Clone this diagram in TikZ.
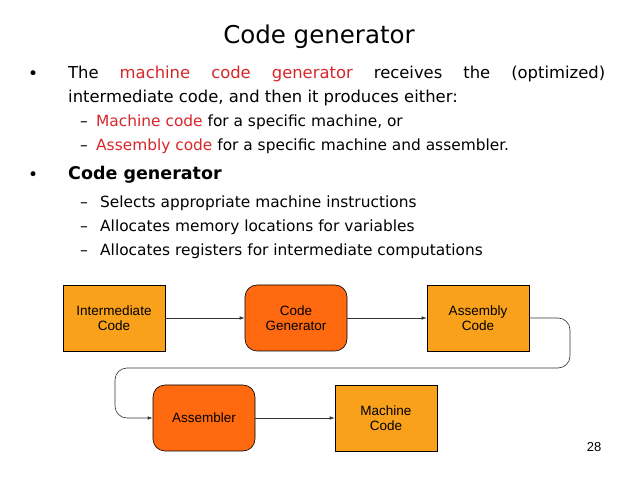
\documentclass[tikz,border=0pt]{standalone}
\usepackage{fontspec}
\setmainfont{DejaVu Sans}
\newfontfamily\arialf{Liberation Sans}
\usetikzlibrary{arrows.meta}
\definecolor{redt}{HTML}{D7262A}
\definecolor{boxa}{HTML}{F9A11B}
\definecolor{boxb}{HTML}{FF6A10}
\begin{document}
\begin{tikzpicture}[x=1pt,y=-1pt,
  box/.style={draw=black,line width=0.6pt,minimum width=102pt,minimum height=66pt,align=center,font=\arialf\fontsize{13.5}{15.5}\selectfont,inner sep=0pt},
  sq/.style={box,fill=boxa},
  rd/.style={box,fill=boxb,rounded corners=12pt},
  con/.style={draw=black!80,line width=0.6pt,-{Latex[length=5pt,width=3.5pt]}},
  txt/.style={anchor=base west,inner sep=0pt,font=\fontsize{16.4}{20}\selectfont},
  sub/.style={anchor=base west,inner sep=0pt,font=\fontsize{15.4}{18}\selectfont}]
\useasboundingbox (0,0) rectangle (638,478);
\node[font=\fontsize{24.5}{30}\selectfont] (title) at (319,37) {Code generator};
\node[txt,font=\fontsize{17}{20}\selectfont] (b1) at (28,80) {•};
\node[txt] (p1) at (68,79) {\makebox[537pt][s]{The \textcolor{redt}{machine code generator} receives the (optimized)}};
\node[txt] (p2) at (68,103) {intermediate code, and then it produces either:};
\node[sub] (d1) at (80,127) {–};
\node[sub] (s1) at (96,127) {\textcolor{redt}{Machine code} for a specific machine, or};
\node[sub] (d2) at (80,151) {–};
\node[sub] (s2) at (96,151) {\textcolor{redt}{Assembly code} for a specific machine and assembler.};
\node[txt,font=\fontsize{17}{20}\selectfont] (b2) at (28,181) {•};
\node[txt,font=\bfseries\fontsize{17.5}{22}\selectfont] (cg) at (68,180) {Code generator};
\node[sub] (d3) at (80,208) {–};
\node[sub] (t3) at (100,208) {Selects appropriate machine instructions};
\node[sub] (d4) at (80,232) {–};
\node[sub] (t4) at (100,232) {Allocates memory locations for variables};
\node[sub] (d5) at (80,256) {–};
\node[sub] (t5) at (100,256) {Allocates registers for intermediate computations};
\node[sq] (ic) at (114,318) {Intermediate\\Code};
\node[rd] (cgen) at (296,318) {Code\\Generator};
\node[sq] (ac) at (478,318) {Assembly\\Code};
\node[rd] (asm) at (204,418) {Assembler};
\node[sq] (mc) at (386,418) {Machine\\Code};
\node[font=\arialf\fontsize{13}{15}\selectfont] (pg) at (594,447) {28};
\draw[con] (ic) -- (cgen);
\draw[con] (cgen) -- (ac);
\draw[con,rounded corners=12pt] (ac.east) -- (570,318) -- (570,368) -- (115,368) -- (115,418) -- (asm.west);
\draw[con] (asm) -- (mc);
\end{tikzpicture}
\end{document}
